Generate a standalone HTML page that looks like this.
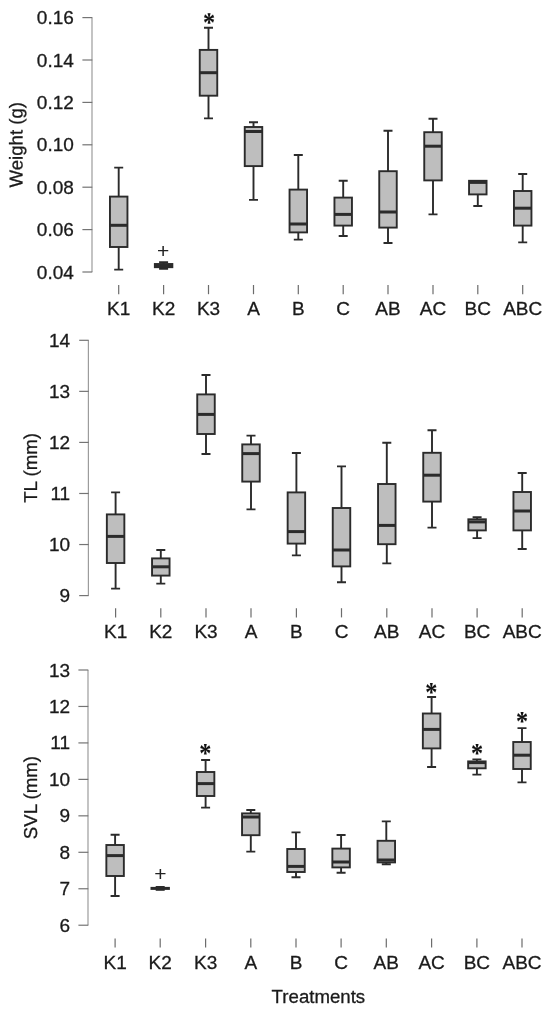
<!DOCTYPE html>
<html lang="en"><head><meta charset="utf-8"><title>Treatments boxplots</title>
<style>html,body{margin:0;padding:0;background:#fff}body{width:550px;height:1010px;overflow:hidden}svg{display:block}text{font-family:"Liberation Sans",Arial,sans-serif;fill:#1a1a1a}.t{stroke:#1a1a1a;stroke-width:0.3px}.t{font-size:19.0px}.a{font-size:18.65px;stroke:#1a1a1a;stroke-width:0.3px}.star{font-family:"Liberation Serif","DejaVu Serif",serif;font-weight:bold;font-size:26px;fill:#111;stroke:#111;stroke-width:0.12px}.plus{font-size:21px;fill:#222}.ax{stroke:#9c9c9c;stroke-width:1.2;fill:none}.tk{stroke:#747474;stroke-width:1.2;fill:none}.xt{stroke:#6c6c6c;stroke-width:1.2;fill:none}.w{stroke:#2b2b2b;stroke-width:1.9;fill:none}.b{stroke:#2b2b2b;stroke-width:1.9;fill:#bebebe}.m{stroke:#2b2b2b;stroke-width:3.0;fill:none}</style></head><body>
<svg width="550" height="1010" viewBox="0 0 550 1010">
<rect width="550" height="1010" fill="#fff"/>
<g>
<path class="ax" d="M92.00 17.60V272.00"/>
<path class="tk" d="M82.40 17.60H92.30"/>
<text class="t" x="73.80" y="24.10" text-anchor="end">0.16</text>
<path class="tk" d="M82.40 60.00H92.30"/>
<text class="t" x="73.80" y="66.50" text-anchor="end">0.14</text>
<path class="tk" d="M82.40 102.40H92.30"/>
<text class="t" x="73.80" y="108.90" text-anchor="end">0.12</text>
<path class="tk" d="M82.40 144.80H92.30"/>
<text class="t" x="73.80" y="151.30" text-anchor="end">0.10</text>
<path class="tk" d="M82.40 187.20H92.30"/>
<text class="t" x="73.80" y="193.70" text-anchor="end">0.08</text>
<path class="tk" d="M82.40 229.60H92.30"/>
<text class="t" x="73.80" y="236.10" text-anchor="end">0.06</text>
<path class="tk" d="M82.40 272.00H92.30"/>
<text class="t" x="73.80" y="278.50" text-anchor="end">0.04</text>
<text class="a" transform="translate(22.40 144.80) rotate(-89.97)" text-anchor="middle">Weight (g)</text>
<path class="xt" d="M118.70 285.00V294.20"/>
<text class="t" x="118.70" y="315.00" text-anchor="middle">K1</text>
<path class="w" d="M118.70 196.60V167.60M114.20 167.60H123.20"/>
<path class="w" d="M118.70 247.00V269.60M114.20 269.60H123.20"/>
<rect class="b" x="109.95" y="196.60" width="17.50" height="50.40"/>
<path class="m" d="M109.95 225.30H127.45"/>
<path class="xt" d="M163.60 285.00V294.20"/>
<text class="t" x="163.60" y="315.00" text-anchor="middle">K2</text>
<path class="w" d="M163.60 264.00V262.20M159.10 262.20H168.10"/>
<path class="w" d="M163.60 267.20V268.90M159.10 268.90H168.10"/>
<rect class="b" x="154.85" y="264.00" width="17.50" height="3.20"/>
<path class="m" d="M154.85 265.70H172.35"/>
<path class="xt" d="M208.50 285.00V294.20"/>
<text class="t" x="208.50" y="315.00" text-anchor="middle">K3</text>
<path class="w" d="M208.50 49.90V27.70M204.00 27.70H213.00"/>
<path class="w" d="M208.50 95.70V118.40M204.00 118.40H213.00"/>
<rect class="b" x="199.75" y="49.90" width="17.50" height="45.80"/>
<path class="m" d="M199.75 72.70H217.25"/>
<path class="xt" d="M253.50 285.00V294.20"/>
<text class="t" x="253.50" y="315.00" text-anchor="middle">A</text>
<path class="w" d="M253.50 127.00V122.30M249.00 122.30H258.00"/>
<path class="w" d="M253.50 166.10V199.90M249.00 199.90H258.00"/>
<rect class="b" x="244.75" y="127.00" width="17.50" height="39.10"/>
<path class="m" d="M244.75 131.50H262.25"/>
<path class="xt" d="M298.30 285.00V294.20"/>
<text class="t" x="298.30" y="315.00" text-anchor="middle">B</text>
<path class="w" d="M298.30 189.60V155.00M293.80 155.00H302.80"/>
<path class="w" d="M298.30 232.40V239.60M293.80 239.60H302.80"/>
<rect class="b" x="289.55" y="189.60" width="17.50" height="42.80"/>
<path class="m" d="M289.55 224.00H307.05"/>
<path class="xt" d="M343.20 285.00V294.20"/>
<text class="t" x="343.20" y="315.00" text-anchor="middle">C</text>
<path class="w" d="M343.20 197.60V180.80M338.70 180.80H347.70"/>
<path class="w" d="M343.20 225.60V236.00M338.70 236.00H347.70"/>
<rect class="b" x="334.45" y="197.60" width="17.50" height="28.00"/>
<path class="m" d="M334.45 214.40H351.95"/>
<path class="xt" d="M388.00 285.00V294.20"/>
<text class="t" x="388.00" y="315.00" text-anchor="middle">AB</text>
<path class="w" d="M388.00 171.20V130.80M383.50 130.80H392.50"/>
<path class="w" d="M388.00 227.60V243.00M383.50 243.00H392.50"/>
<rect class="b" x="379.25" y="171.20" width="17.50" height="56.40"/>
<path class="m" d="M379.25 212.00H396.75"/>
<path class="xt" d="M433.00 285.00V294.20"/>
<text class="t" x="433.00" y="315.00" text-anchor="middle">AC</text>
<path class="w" d="M433.00 132.20V118.80M428.50 118.80H437.50"/>
<path class="w" d="M433.00 180.40V214.40M428.50 214.40H437.50"/>
<rect class="b" x="424.25" y="132.20" width="17.50" height="48.20"/>
<path class="m" d="M424.25 146.20H441.75"/>
<path class="xt" d="M477.80 285.00V294.20"/>
<text class="t" x="477.80" y="315.00" text-anchor="middle">BC</text>
<path class="w" d="M477.80 194.40V206.00M473.30 206.00H482.30"/>
<rect class="b" x="469.05" y="180.80" width="17.50" height="13.60"/>
<path class="m" d="M469.05 182.40H486.55"/>
<path class="xt" d="M522.70 285.00V294.20"/>
<text class="t" x="522.70" y="315.00" text-anchor="middle">ABC</text>
<path class="w" d="M522.70 191.00V174.00M518.20 174.00H527.20"/>
<path class="w" d="M522.70 225.60V242.40M518.20 242.40H527.20"/>
<rect class="b" x="513.95" y="191.00" width="17.50" height="34.60"/>
<path class="m" d="M513.95 208.20H531.45"/>
<text class="star" transform="translate(208.98 31.46) rotate(0.03) scale(0.93 1.06)" text-anchor="middle">*</text>
<text class="plus" x="163.10" y="257.90" text-anchor="middle">+</text>
</g>
<g>
<path class="ax" d="M88.40 340.30V595.60"/>
<path class="tk" d="M79.20 340.30H88.70"/>
<text class="t" x="70.20" y="346.80" text-anchor="end">14</text>
<path class="tk" d="M79.20 391.36H88.70"/>
<text class="t" x="70.20" y="397.86" text-anchor="end">13</text>
<path class="tk" d="M79.20 442.42H88.70"/>
<text class="t" x="70.20" y="448.92" text-anchor="end">12</text>
<path class="tk" d="M79.20 493.48H88.70"/>
<text class="t" x="70.20" y="499.98" text-anchor="end">11</text>
<path class="tk" d="M79.20 544.54H88.70"/>
<text class="t" x="70.20" y="551.04" text-anchor="end">10</text>
<path class="tk" d="M79.20 595.60H88.70"/>
<text class="t" x="70.20" y="602.10" text-anchor="end">9</text>
<text class="a" transform="translate(36.90 467.95) rotate(-89.97)" text-anchor="middle">TL (mm)</text>
<path class="xt" d="M115.60 608.20V617.40"/>
<text class="t" x="115.60" y="638.20" text-anchor="middle">K1</text>
<path class="w" d="M115.60 514.40V492.40M111.10 492.40H120.10"/>
<path class="w" d="M115.60 563.00V588.60M111.10 588.60H120.10"/>
<rect class="b" x="106.85" y="514.40" width="17.50" height="48.60"/>
<path class="m" d="M106.85 536.40H124.35"/>
<path class="xt" d="M160.80 608.20V617.40"/>
<text class="t" x="160.80" y="638.20" text-anchor="middle">K2</text>
<path class="w" d="M160.80 558.40V550.00M156.30 550.00H165.30"/>
<path class="w" d="M160.80 575.60V583.60M156.30 583.60H165.30"/>
<rect class="b" x="152.05" y="558.40" width="17.50" height="17.20"/>
<path class="m" d="M152.05 566.80H169.55"/>
<path class="xt" d="M206.00 608.20V617.40"/>
<text class="t" x="206.00" y="638.20" text-anchor="middle">K3</text>
<path class="w" d="M206.00 394.40V375.00M201.50 375.00H210.50"/>
<path class="w" d="M206.00 434.00V454.00M201.50 454.00H210.50"/>
<rect class="b" x="197.25" y="394.40" width="17.50" height="39.60"/>
<path class="m" d="M197.25 414.40H214.75"/>
<path class="xt" d="M251.00 608.20V617.40"/>
<text class="t" x="251.00" y="638.20" text-anchor="middle">A</text>
<path class="w" d="M251.00 444.40V435.60M246.50 435.60H255.50"/>
<path class="w" d="M251.00 481.60V509.40M246.50 509.40H255.50"/>
<rect class="b" x="242.25" y="444.40" width="17.50" height="37.20"/>
<path class="m" d="M242.25 453.60H259.75"/>
<path class="xt" d="M296.40 608.20V617.40"/>
<text class="t" x="296.40" y="638.20" text-anchor="middle">B</text>
<path class="w" d="M296.40 492.40V453.00M291.90 453.00H300.90"/>
<path class="w" d="M296.40 543.60V555.40M291.90 555.40H300.90"/>
<rect class="b" x="287.65" y="492.40" width="17.50" height="51.20"/>
<path class="m" d="M287.65 531.60H305.15"/>
<path class="xt" d="M341.50 608.20V617.40"/>
<text class="t" x="341.50" y="638.20" text-anchor="middle">C</text>
<path class="w" d="M341.50 508.00V466.40M337.00 466.40H346.00"/>
<path class="w" d="M341.50 566.40V582.20M337.00 582.20H346.00"/>
<rect class="b" x="332.75" y="508.00" width="17.50" height="58.40"/>
<path class="m" d="M332.75 550.00H350.25"/>
<path class="xt" d="M386.80 608.20V617.40"/>
<text class="t" x="386.80" y="638.20" text-anchor="middle">AB</text>
<path class="w" d="M386.80 484.00V442.80M382.30 442.80H391.30"/>
<path class="w" d="M386.80 544.20V563.40M382.30 563.40H391.30"/>
<rect class="b" x="378.05" y="484.00" width="17.50" height="60.20"/>
<path class="m" d="M378.05 525.40H395.55"/>
<path class="xt" d="M432.00 608.20V617.40"/>
<text class="t" x="432.00" y="638.20" text-anchor="middle">AC</text>
<path class="w" d="M432.00 452.80V430.20M427.50 430.20H436.50"/>
<path class="w" d="M432.00 501.60V527.60M427.50 527.60H436.50"/>
<rect class="b" x="423.25" y="452.80" width="17.50" height="48.80"/>
<path class="m" d="M423.25 475.20H440.75"/>
<path class="xt" d="M477.10 608.20V617.40"/>
<text class="t" x="477.10" y="638.20" text-anchor="middle">BC</text>
<path class="w" d="M477.10 519.30V517.20M472.60 517.20H481.60"/>
<path class="w" d="M477.10 530.40V538.10M472.60 538.10H481.60"/>
<rect class="b" x="468.35" y="519.30" width="17.50" height="11.10"/>
<path class="m" d="M468.35 521.90H485.85"/>
<path class="xt" d="M522.20 608.20V617.40"/>
<text class="t" x="522.20" y="638.20" text-anchor="middle">ABC</text>
<path class="w" d="M522.20 492.00V473.00M517.70 473.00H526.70"/>
<path class="w" d="M522.20 530.40V549.00M517.70 549.00H526.70"/>
<rect class="b" x="513.45" y="492.00" width="17.50" height="38.40"/>
<path class="m" d="M513.45 511.00H530.95"/>
</g>
<g>
<path class="ax" d="M88.00 670.00V925.22"/>
<path class="tk" d="M78.40 670.00H88.30"/>
<text class="t" x="70.10" y="676.50" text-anchor="end">13</text>
<path class="tk" d="M78.40 706.46H88.30"/>
<text class="t" x="70.10" y="712.96" text-anchor="end">12</text>
<path class="tk" d="M78.40 742.92H88.30"/>
<text class="t" x="70.10" y="749.42" text-anchor="end">11</text>
<path class="tk" d="M78.40 779.38H88.30"/>
<text class="t" x="70.10" y="785.88" text-anchor="end">10</text>
<path class="tk" d="M78.40 815.84H88.30"/>
<text class="t" x="70.10" y="822.34" text-anchor="end">9</text>
<path class="tk" d="M78.40 852.30H88.30"/>
<text class="t" x="70.10" y="858.80" text-anchor="end">8</text>
<path class="tk" d="M78.40 888.76H88.30"/>
<text class="t" x="70.10" y="895.26" text-anchor="end">7</text>
<path class="tk" d="M78.40 925.22H88.30"/>
<text class="t" x="70.10" y="931.72" text-anchor="end">6</text>
<text class="a" transform="translate(36.90 797.61) rotate(-89.97)" text-anchor="middle">SVL (mm)</text>
<path class="xt" d="M115.10 938.40V947.60"/>
<text class="t" x="115.10" y="968.60" text-anchor="middle">K1</text>
<path class="w" d="M115.10 845.00V834.80M110.60 834.80H119.60"/>
<path class="w" d="M115.10 876.00V896.00M110.60 896.00H119.60"/>
<rect class="b" x="106.35" y="845.00" width="17.50" height="31.00"/>
<path class="m" d="M106.35 855.60H123.85"/>
<path class="xt" d="M160.20 938.40V947.60"/>
<text class="t" x="160.20" y="968.60" text-anchor="middle">K2</text>
<path class="m" d="M150.50 888.40H169.90"/>
<path class="w" style="stroke-width:4.8" d="M155.70 888.40H164.70"/>
<path class="xt" d="M205.60 938.40V947.60"/>
<text class="t" x="205.60" y="968.60" text-anchor="middle">K3</text>
<path class="w" d="M205.60 772.00V760.00M201.10 760.00H210.10"/>
<path class="w" d="M205.60 796.00V807.60M201.10 807.60H210.10"/>
<rect class="b" x="196.85" y="772.00" width="17.50" height="24.00"/>
<path class="m" d="M196.85 783.60H214.35"/>
<path class="xt" d="M250.80 938.40V947.60"/>
<text class="t" x="250.80" y="968.60" text-anchor="middle">A</text>
<path class="w" d="M250.80 813.40V810.00M246.30 810.00H255.30"/>
<path class="w" d="M250.80 835.20V851.60M246.30 851.60H255.30"/>
<rect class="b" x="242.05" y="813.40" width="17.50" height="21.80"/>
<path class="m" d="M242.05 817.00H259.55"/>
<path class="xt" d="M296.00 938.40V947.60"/>
<text class="t" x="296.00" y="968.60" text-anchor="middle">B</text>
<path class="w" d="M296.00 849.00V832.40M291.50 832.40H300.50"/>
<path class="w" d="M296.00 872.00V877.20M291.50 877.20H300.50"/>
<rect class="b" x="287.25" y="849.00" width="17.50" height="23.00"/>
<path class="m" d="M287.25 866.40H304.75"/>
<path class="xt" d="M341.10 938.40V947.60"/>
<text class="t" x="341.10" y="968.60" text-anchor="middle">C</text>
<path class="w" d="M341.10 848.60V835.00M336.60 835.00H345.60"/>
<path class="w" d="M341.10 867.40V872.80M336.60 872.80H345.60"/>
<rect class="b" x="332.35" y="848.60" width="17.50" height="18.80"/>
<path class="m" d="M332.35 862.00H349.85"/>
<path class="xt" d="M386.30 938.40V947.60"/>
<text class="t" x="386.30" y="968.60" text-anchor="middle">AB</text>
<path class="w" d="M386.30 840.80V821.40M381.80 821.40H390.80"/>
<path class="w" d="M386.30 862.40V864.30M381.80 864.30H390.80"/>
<rect class="b" x="377.55" y="840.80" width="17.50" height="21.60"/>
<path class="m" d="M377.55 860.00H395.05"/>
<path class="xt" d="M431.60 938.40V947.60"/>
<text class="t" x="431.60" y="968.60" text-anchor="middle">AC</text>
<path class="w" d="M431.60 713.50V697.00M427.10 697.00H436.10"/>
<path class="w" d="M431.60 748.40V767.00M427.10 767.00H436.10"/>
<rect class="b" x="422.85" y="713.50" width="17.50" height="34.90"/>
<path class="m" d="M422.85 729.40H440.35"/>
<path class="xt" d="M476.90 938.40V947.60"/>
<text class="t" x="476.90" y="968.60" text-anchor="middle">BC</text>
<path class="w" d="M476.90 761.40V759.40M472.40 759.40H481.40"/>
<path class="w" d="M476.90 768.30V774.60M472.40 774.60H481.40"/>
<rect class="b" x="468.15" y="761.40" width="17.50" height="6.90"/>
<path class="m" d="M468.15 762.60H485.65"/>
<path class="xt" d="M522.00 938.40V947.60"/>
<text class="t" x="522.00" y="968.60" text-anchor="middle">ABC</text>
<path class="w" d="M522.00 742.00V728.10M517.50 728.10H526.50"/>
<path class="w" d="M522.00 769.00V782.40M517.50 782.40H526.50"/>
<rect class="b" x="513.25" y="742.00" width="17.50" height="27.00"/>
<path class="m" d="M513.25 755.20H530.75"/>
<text class="star" transform="translate(205.25 762.34) rotate(0.03) scale(0.93 1.06)" text-anchor="middle">*</text>
<text class="star" transform="translate(431.36 701.28) rotate(0.03) scale(0.93 1.06)" text-anchor="middle">*</text>
<text class="star" transform="translate(477.10 762.34) rotate(0.03) scale(0.93 1.06)" text-anchor="middle">*</text>
<text class="star" transform="translate(522.10 730.34) rotate(0.03) scale(0.93 1.06)" text-anchor="middle">*</text>
<text class="plus" x="160.40" y="881.30" text-anchor="middle">+</text>
</g>
<text class="a" x="318.4" y="1003" text-anchor="middle">Treatments</text>
</svg></body></html>
